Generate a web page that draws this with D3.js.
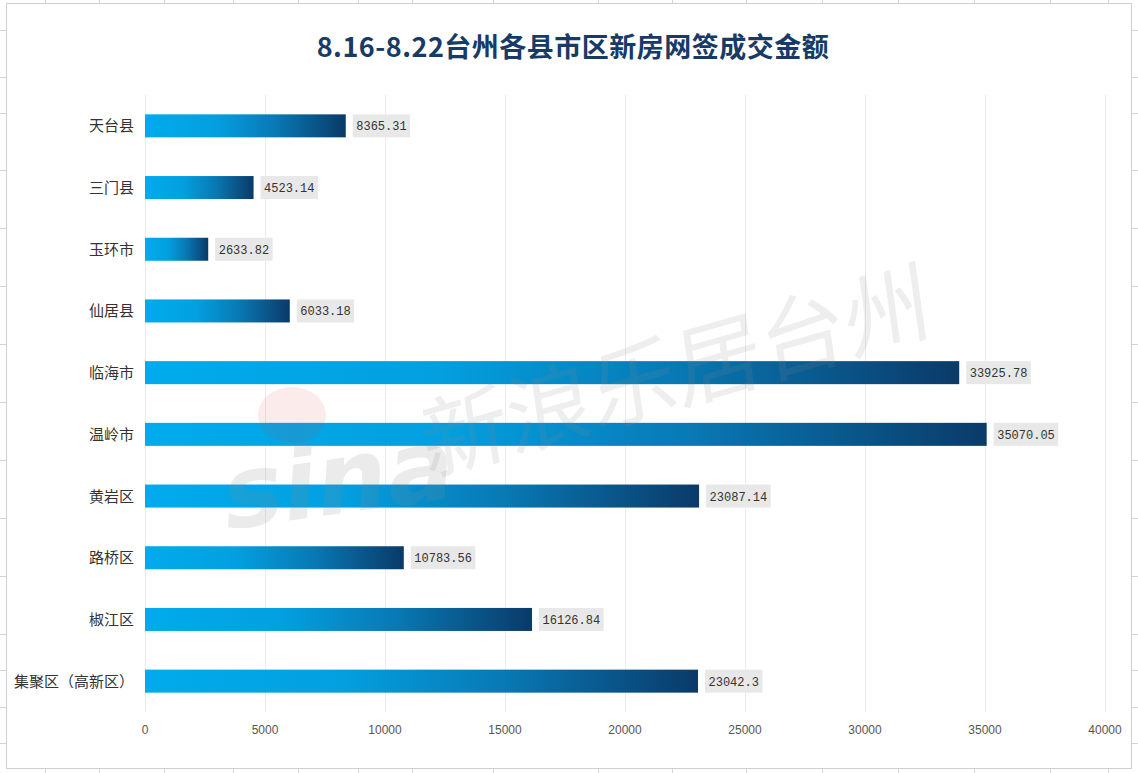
<!DOCTYPE html>
<html>
<head>
<meta charset="utf-8">
<script src="https://cdn.jsdelivr.net/npm/d3@7"></script>
<style>
  html, body { margin: 0; padding: 0; background: #fff; }
  svg { display: block; }
</style>
</head>
<body>
<div id="chart"></div>
<script>
// data
const categories = ["天台县", "三门县", "玉环市", "仙居县", "临海市", "温岭市", "黄岩区", "路桥区", "椒江区", "集聚区（高新区）"];
const amounts = [8365.31, 4523.14, 2633.82, 6033.18, 33925.78, 35070.05, 23087.14, 10783.56, 16126.84, 23042.3];
const amountLabels = ["8365.31", "4523.14", "2633.82", "6033.18", "33925.78", "35070.05", "23087.14", "10783.56", "16126.84", "23042.3"];
const xTicks = [0, 5000, 10000, 15000, 20000, 25000, 30000, 35000, 40000];

const W = 1138, H = 773;
const cjk = "'Noto Sans CJK SC', 'Microsoft YaHei', sans-serif";

const svg = d3.select("#chart").append("svg")
  .attr("width", W).attr("height", H);

// spreadsheet cells peeking round the chart frame
const sheet = svg.append("g").attr("stroke", "#d4d4d4").attr("stroke-width", 1);
[30, 77, 113, 170, 228, 286, 344, 402, 460, 518, 576, 634, 670, 707, 743].forEach(y => {
  sheet.append("line").attr("x1", 0).attr("x2", 6).attr("y1", y + 0.5).attr("y2", y + 0.5);
  sheet.append("line").attr("x1", 1132).attr("x2", W).attr("y1", y + 0.5).attr("y2", y + 0.5);
});
[45, 99, 164, 233, 298, 358, 412, 493, 598, 672, 746, 822, 898, 974, 1050, 1108].forEach(x => {
  sheet.append("line").attr("x1", x + 0.5).attr("x2", x + 0.5).attr("y1", 0).attr("y2", 3);
  sheet.append("line").attr("x1", x + 0.5).attr("x2", x + 0.5).attr("y1", 769).attr("y2", H);
});

svg.append("rect")
  .attr("x", 6.5).attr("y", 3.5).attr("width", 1125).attr("height", 765)
  .attr("fill", "#fff").attr("stroke", "#cfcfcf");

const defs = svg.append("defs");
const grad = defs.append("linearGradient").attr("id", "barGrad")
  .attr("x1", "0%").attr("x2", "100%").attr("y1", "0%").attr("y2", "0%");
grad.append("stop").attr("offset", "0%").attr("stop-color", "#00abec");
grad.append("stop").attr("offset", "35%").attr("stop-color", "#03a0e0");
grad.append("stop").attr("offset", "65%").attr("stop-color", "#0879b4");
grad.append("stop").attr("offset", "100%").attr("stop-color", "#0a3a68");

const x = d3.scaleLinear().domain([0, 40000]).range([145, 1105]);
const y = d3.scaleBand().domain(categories).range([95, 712]).paddingInner(0.627).paddingOuter(0.3135);

// title
svg.append("text")
  .attr("x", 573).attr("y", 57)
  .attr("text-anchor", "middle")
  .attr("font-family", cjk)
  .attr("font-weight", "bold")
  .attr("font-size", 27)
  .attr("letter-spacing", 0.5)
  .attr("fill", "#173a66")
  .text("8.16-8.22台州各县市区新房网签成交金额");

// vertical gridlines
svg.append("g").selectAll("line").data(xTicks).join("line")
  .attr("x1", d => Math.round(x(d)) + 0.5).attr("x2", d => Math.round(x(d)) + 0.5)
  .attr("y1", 95).attr("y2", 712)
  .attr("stroke", "#ececec");

// x tick labels
svg.append("g").selectAll("text").data(xTicks).join("text")
  .attr("x", d => x(d)).attr("y", 734)
  .attr("text-anchor", "middle")
  .attr("font-family", "'Liberation Sans', Arial, sans-serif")
  .attr("font-size", 12)
  .attr("fill", "#555")
  .text(d => d);

// category labels
svg.append("g").selectAll("text").data(categories).join("text")
  .attr("x", 134).attr("y", d => y(d) + y.bandwidth() / 2 + 5.5)
  .attr("text-anchor", "end")
  .attr("font-family", cjk)
  .attr("font-size", 15)
  .attr("fill", "#333")
  .text(d => d);

// bars
svg.append("g").selectAll("rect").data(amounts).join("rect")
  .attr("x", x(0))
  .attr("y", (d, i) => y(categories[i]))
  .attr("width", d => x(d) - x(0))
  .attr("height", y.bandwidth())
  .attr("fill", "url(#barGrad)");

// value labels with grey boxes
const lab = svg.append("g").selectAll("g").data(amounts).join("g")
  .attr("transform", (d, i) => `translate(${x(d) + 7},${y(categories[i])})`);
lab.append("rect")
  .attr("x", 0).attr("y", 0)
  .attr("width", (d, i) => amountLabels[i].length * 7.2 + 7)
  .attr("height", y.bandwidth())
  .attr("fill", "#e8e8e8");
lab.append("text")
  .attr("x", 3.5).attr("y", y.bandwidth() / 2 + 4.5)
  .attr("font-family", "'Liberation Mono', 'DejaVu Sans Mono', monospace")
  .attr("font-size", 12)
  .attr("fill", "#333")
  .text((d, i) => amountLabels[i]);

// watermark
const wm = svg.append("g").attr("pointer-events", "none");
wm.append("ellipse")
  .attr("cx", 292).attr("cy", 415).attr("rx", 34).attr("ry", 28)
  .attr("fill", "#e23b3b").attr("opacity", 0.1);
wm.append("text")
  .attr("transform", "translate(222,530) rotate(-8) skewX(-12)")
  .attr("font-family", "'DejaVu Sans', sans-serif")
  .attr("font-weight", "bold")
  .attr("font-size", 100)
  .attr("fill", "#8a8a8a").attr("opacity", 0.16)
  .text("sina");
wm.append("text")
  .attr("transform", "translate(675,365) rotate(-16) skewX(-8)")
  .attr("text-anchor", "middle")
  .attr("dominant-baseline", "central")
  .attr("font-family", cjk)
  .attr("font-size", 88)
  .attr("fill", "#8a8a8a").attr("opacity", 0.14)
  .text("新浪乐居台州");
</script>
</body>
</html>
